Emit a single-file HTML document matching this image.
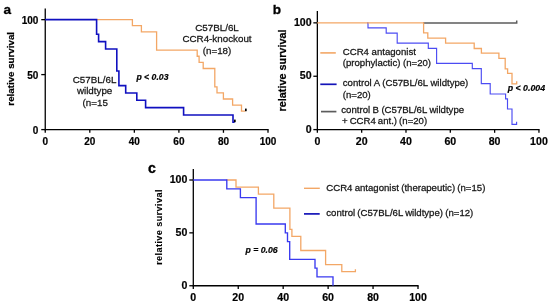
<!DOCTYPE html>
<html><head><meta charset="utf-8"><style>
html,body{margin:0;padding:0;background:#fff;}
body{width:550px;height:305px;overflow:hidden;}
svg{display:block;font-family:"Liberation Sans", sans-serif;will-change:transform;}
.ax{stroke:#000;stroke-width:1.3;fill:none;}
.tk{font-size:10px;font-weight:bold;fill:#000;stroke:#000;stroke-width:0.2px;}
.tk2{font-size:10.6px;font-weight:bold;fill:#000;stroke:#000;stroke-width:0.2px;}
.lb{font-size:9.75px;font-weight:bold;fill:#000;stroke:#000;stroke-width:0.22px;}
.tx{font-size:9.6px;fill:#161616;stroke:#161616;stroke-width:0.26px;}
.ta{font-size:9.8px;fill:#161616;stroke:#161616;stroke-width:0.26px;}
.pv{font-size:8.7px;font-weight:bold;font-style:italic;fill:#000;stroke:#000;stroke-width:0.2px;}
.pl{font-size:13.6px;font-weight:bold;fill:#000;stroke:#000;stroke-width:0.3px;}
.cv{fill:none;stroke-linejoin:miter;stroke-linecap:butt;}
</style></head><body>
<svg width="550" height="305" viewBox="0 0 550 305">
<!-- panel a -->
<text x="3.6" y="13.8" class="pl">a</text>
<text transform="translate(14.4,68.8) rotate(-90)" class="lb" text-anchor="middle">relative survival</text>
<path d="M45.25,8.5 V130.2" class="ax"/>
<path d="M44.65,129.6 H268.6" class="ax"/>
<path d="M41.25,19.65 H45.25" class="ax"/>
<path d="M41.25,74.6 H45.25" class="ax"/>
<path d="M41.25,129.6 H45.25" class="ax"/>
<path d="M45.25,129.6 V132.79999999999998" class="ax"/>
<text x="45.25" y="144.7" class="tk" text-anchor="middle">0</text>
<path d="M89.8,129.6 V132.79999999999998" class="ax"/>
<text x="89.8" y="144.7" class="tk" text-anchor="middle">20</text>
<path d="M134.35,129.6 V132.79999999999998" class="ax"/>
<text x="134.35" y="144.7" class="tk" text-anchor="middle">40</text>
<path d="M178.9,129.6 V132.79999999999998" class="ax"/>
<text x="178.9" y="144.7" class="tk" text-anchor="middle">60</text>
<path d="M223.45,129.6 V132.79999999999998" class="ax"/>
<text x="223.45" y="144.7" class="tk" text-anchor="middle">80</text>
<path d="M268.0,129.6 V132.79999999999998" class="ax"/>
<text x="268.0" y="144.7" class="tk" text-anchor="middle">100</text>
<text x="38.4" y="23.9" class="tk" text-anchor="end">100</text>
<text x="38.4" y="78.8" class="tk" text-anchor="end">50</text>
<text x="38.4" y="133.9" class="tk" text-anchor="end">0</text>
<path d="M96.0,19.60 H132.4 V25.71 H141.4 V31.82 H156.6 V50.15 H197.2 V56.26 H199.1 V62.37 H203.2 V68.48 H214.8 V86.80 H217.0 V92.90 H223.4 V99.00 H232.6 V105.10 H241.5 V111.20 H245.4" class="cv" stroke="#f3a766" stroke-width="1.3"/>
<path d="M45.2,19.65 H96.6 V34.27 H98.6 V41.60 H105.6 V48.93 H116.8 V70.93 H118.9 V85.60 H125.7 V92.93 H136.8 V100.27 H145.6 V107.60 H183.6 V114.93 H233.0 V122.27 H234.6" class="cv" stroke="#1010c0" stroke-width="1.6"/>
<rect x="234.0" y="119.6" width="1.7" height="2.6" fill="#000"/>
<rect x="245.0" y="108.6" width="1.7" height="2.6" fill="#000"/>
<text x="217" y="30.5" class="ta" text-anchor="middle">C57BL/6L</text>
<text x="217" y="41.5" class="ta" text-anchor="middle">CCR4-knockout</text>
<text x="217" y="54.4" class="ta" text-anchor="middle">(n=18)</text>
<text x="94.6" y="82.9" class="ta" text-anchor="middle">C57BL/6L</text>
<text x="94.6" y="94.3" class="ta" text-anchor="middle">wildtype</text>
<text x="95.2" y="105.7" class="ta" text-anchor="middle">(n=15</text>
<text x="136.4" y="80.0" class="pv">p &lt; 0.03</text>
<!-- panel b -->
<text x="272.8" y="13.8" class="pl">b</text>
<text transform="translate(285.8,70.5) rotate(-90)" class="lb" style="font-size:10.85px" text-anchor="middle">relative survival</text>
<path d="M317.35,11.1 V130.2" class="ax"/>
<path d="M316.75,129.6 H539.5500000000001" class="ax"/>
<path d="M313.35,22.85 H317.35" class="ax"/>
<path d="M313.35,76.25 H317.35" class="ax"/>
<path d="M313.35,129.6 H317.35" class="ax"/>
<path d="M317.35,129.6 V132.79999999999998" class="ax"/>
<text x="317.35" y="144.7" class="tk2" text-anchor="middle">0</text>
<path d="M361.67,129.6 V132.79999999999998" class="ax"/>
<text x="361.67" y="144.7" class="tk2" text-anchor="middle">20</text>
<path d="M405.99,129.6 V132.79999999999998" class="ax"/>
<text x="405.99" y="144.7" class="tk2" text-anchor="middle">40</text>
<path d="M450.31,129.6 V132.79999999999998" class="ax"/>
<text x="450.31" y="144.7" class="tk2" text-anchor="middle">60</text>
<path d="M494.63,129.6 V132.79999999999998" class="ax"/>
<text x="494.63" y="144.7" class="tk2" text-anchor="middle">80</text>
<path d="M538.95,129.6 V132.79999999999998" class="ax"/>
<text x="538.95" y="144.7" class="tk2" text-anchor="middle">100</text>
<text x="311.6" y="26.0" class="tk2" text-anchor="end">100</text>
<text x="311.6" y="79.2" class="tk2" text-anchor="end">50</text>
<text x="311.6" y="132.8" class="tk2" text-anchor="end">0</text>
<path d="M423.0,22.9 H516.7 V20.4" class="cv" stroke="#5c5c5c" stroke-width="1.5"/>
<path d="M367.0,22.90 H368.0 V27.80 H386.2 V33.10 H397.2 V43.10 H428.3 V48.30 H436.6 V63.40 H472.3 V68.60 H481.3 V83.60 H490.2 V94.00 H505.6 V98.80 H507.5 V109.00 H512.0 V124.30 H516.6 V121.8" class="cv" stroke="#4c4cf3" stroke-width="1.15"/>
<path d="M317.2,22.90 H423.6 V32.90 H427.8 V38.20 H445.6 V43.10 H474.2 V48.50 H481.4 V53.20 H498.9 V58.30 H505.2 V68.90 H507.6 V73.30 H512.0 V83.80 H516.7 V81.3" class="cv" stroke="#f3a766" stroke-width="1.3"/>
<path d="M320.3,52.9 H335.8" stroke="#f3a766" stroke-width="1.6"/>
<path d="M320.3,84.3 H336.6" stroke="#1414b8" stroke-width="1.7"/>
<path d="M321.0,111.6 H336.4" stroke="#5c5c5c" stroke-width="1.7"/>
<text x="342.8" y="54.9" class="tx">CCR4 antagonist</text>
<text x="342.8" y="65.6" class="tx">(prophylactic) (n=20)</text>
<text x="342.8" y="86.3" class="tx">control A (C57BL/6L wildtype)</text>
<text x="342.8" y="98.1" class="tx">(n=20)</text>
<text x="341.3" y="112.9" class="tx" word-spacing="-0.2">control B (C57BL/6L wildtype</text>
<text x="342.0" y="123.9" class="tx" word-spacing="-0.6">+ CCR4 ant.) (n=20)</text>
<text x="507.7" y="91.3" class="pv" style="font-size:8.8px">p &lt; 0.004</text>
<!-- panel c -->
<text x="148.1" y="172.8" class="pl" style="font-size:14.1px">c</text>
<text transform="translate(161.8,227.0) rotate(-90)" class="lb" style="font-size:9.0px;letter-spacing:0.45px;stroke-width:0.1px" text-anchor="middle">relative survival</text>
<path d="M193.3,169.0 V286.35" class="ax"/>
<path d="M192.70000000000002,285.75 H418.6" class="ax"/>
<path d="M189.3,180.0 H193.3" class="ax"/>
<path d="M189.3,232.85 H193.3" class="ax"/>
<path d="M189.3,285.75 H193.3" class="ax"/>
<path d="M193.3,285.75 V288.95" class="ax"/>
<text x="193.3" y="300.8" class="tk2" text-anchor="middle">0</text>
<path d="M238.24,285.75 V288.95" class="ax"/>
<text x="238.24" y="300.8" class="tk2" text-anchor="middle">20</text>
<path d="M283.18,285.75 V288.95" class="ax"/>
<text x="283.18" y="300.8" class="tk2" text-anchor="middle">40</text>
<path d="M328.12,285.75 V288.95" class="ax"/>
<text x="328.12" y="300.8" class="tk2" text-anchor="middle">60</text>
<path d="M373.06,285.75 V288.95" class="ax"/>
<text x="373.06" y="300.8" class="tk2" text-anchor="middle">80</text>
<path d="M418.0,285.75 V288.95" class="ax"/>
<text x="418.0" y="300.8" class="tk2" text-anchor="middle">100</text>
<text x="187.4" y="183.0" class="tk2" text-anchor="end">100</text>
<text x="187.4" y="235.9" class="tk2" text-anchor="end">50</text>
<text x="187.4" y="288.8" class="tk2" text-anchor="end">0</text>
<path d="M226.0,180.00 H236.0 V187.05 H258.4 V194.10 H273.8 V208.20 H289.9 V229.35 H291.9 V236.40 H300.8 V250.50 H325.6 V264.60 H341.8 V271.60 H355.4 V269.2" class="cv" stroke="#f3a766" stroke-width="1.3"/>
<path d="M193.3,180.00 H226.8 V188.80 H240.4 V197.60 H256.1 V224.00 H285.3 V232.85 H287.5 V241.60 H289.7 V259.30 H315.0 V268.10 H317.0 V276.90 H333.0 V285.70" class="cv" stroke="#3a3af0" stroke-width="1.35"/>
<path d="M304.0,188.3 H319.8" stroke="#f3a766" stroke-width="1.4"/>
<path d="M304.0,213.9 H319.7" stroke="#1414b8" stroke-width="1.7"/>
<text x="326.3" y="190.7" class="tx" word-spacing="-0.4">CCR4 antagonist (therapeutic) (n=15)</text>
<text x="326.3" y="216.0" class="tx" word-spacing="-0.4">control (C57BL/6L wildtype) (n=12)</text>
<text x="245.5" y="253.4" class="pv">p = 0.06</text>
</svg>
</body></html>
